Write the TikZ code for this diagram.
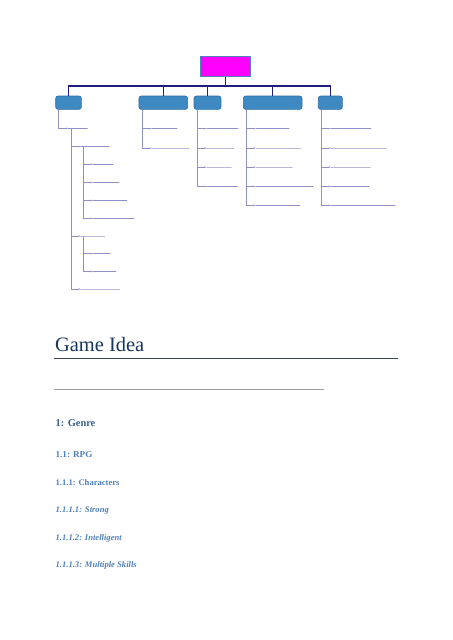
\documentclass[tikz,border=0pt]{standalone}
\usepackage{fontspec}
\setmainfont{Liberation Serif}
\usetikzlibrary{arrows.meta}
\definecolor{navy}{HTML}{1F1F7F}
\definecolor{rootfill}{HTML}{FF00FF}
\definecolor{rootedge}{HTML}{4F81BD}
\definecolor{midfill}{HTML}{3E89C2}
\definecolor{midedge}{HTML}{2F6CA3}
\definecolor{twigc}{HTML}{9090C4}
\definecolor{headone}{HTML}{365F91}
\definecolor{headtwo}{HTML}{4F81BD}
\definecolor{titlec}{HTML}{17365D}
\definecolor{rulec}{HTML}{3F4455}

\begin{document}
\begin{tikzpicture}[x=1.316pt, y=-1.316pt,
  topbox/.style={draw=rootedge, fill=rootfill, line width=0.8pt, minimum width=66.7pt, minimum height=27.2pt, inner sep=0pt},
  midbox/.style={draw=midedge, fill=midfill, rounded corners=3pt, line width=0.8pt, minimum height=17.5pt, inner sep=0pt},
  leaf/.style={draw=twigc, line width=0.8pt, inner sep=0pt, outer sep=0pt, minimum height=0pt, anchor=west},
  bus/.style={draw=navy, line width=1.4pt},
  twig/.style={draw=twigc, line width=0.8pt, -{Stealth[length=2.5pt, width=2pt]}},
  head/.style={anchor=base west, inner sep=0pt, font=\bfseries\fontsize{11.3}{13}\selectfont, text=headtwo}]
  \useasboundingbox (0,0) rectangle (452,640);

  % Top of the chart
  \node[topbox] (root) at (225.3,66.3) {};
  \coordinate (bus) at (225.3,86);

  \node[midbox, minimum width=33.7pt] (b1) at (68.5,102.7) {};
  \node[midbox, minimum width=64.1pt] (b2) at (163.3,102.7) {};
  \node[midbox, minimum width=35.5pt] (b3) at (207.5,102.7) {};
  \node[midbox, minimum width=77.2pt] (b4) at (272.7,102.7) {};
  \node[midbox, minimum width=31.6pt] (b5) at (330.3,102.7) {};

  \foreach \b in {b1,b2,b3,b4,b5}
    \draw[bus] (root.south) |- (bus) -| (\b.north);

  % First branch, three levels deep
  \node[leaf, minimum width=19.7*1.316pt] (a) at (68,128.3) {};
  \draw[twig] ([xshift=4.3pt]b1.south west) |- (a.west);

  \node[leaf, minimum width=28.7*1.316pt] (a1) at (80.3,146.7) {};
  \node[leaf, minimum width=24.7*1.316pt] (a2) at (80.3,236) {};
  \node[leaf, minimum width=39.7*1.316pt] (a3) at (80.3,289) {};
  \foreach \c in {a1,a2,a3}
    \draw[twig] ([xshift=4.3pt]a.west) |- (\c.west);

  \foreach \y/\w [count=\i] in {164.3/20.7, 182.3/26.7, 200.3/34.6, 218.3/41.6} {
    \node[leaf, minimum width=\w*1.316pt] (a1\i) at (92.6,\y) {};
    \draw[twig] ([xshift=4.3pt]a1.west) |- (a1\i.west);
  }
  \foreach \y/\w [count=\i] in {253.7/17.7, 271.7/23.4} {
    \node[leaf, minimum width=\w*1.316pt] (a2\i) at (92.6,\y) {};
    \draw[twig] ([xshift=4.3pt]a2.west) |- (a2\i.west);
  }

  % The other branches
  \foreach \y/\w [count=\i] in {128.7/26, 148/37.7} {
    \node[leaf, minimum width=\w*1.316pt] (c2\i) at (151.3,\y) {};
    \draw[twig] ([xshift=4.3pt]b2.south west) |- (c2\i.west);
  }
  \foreach \y/\w [count=\i] in {128.7/32, 148/27.7, 167/25.4, 186.3/31.4} {
    \node[leaf, minimum width=\w*1.316pt] (c3\i) at (206.3,\y) {};
    \draw[twig] ([xshift=4.3pt]b3.south west) |- (c3\i.west);
  }
  \foreach \y/\w [count=\i] in {128.7/33.7, 148/45.1, 167/37.1, 186.3/57.7, 205.3/44.4} {
    \node[leaf, minimum width=\w*1.316pt] (c4\i) at (255.6,\y) {};
    \draw[twig] ([xshift=4.3pt]b4.south west) |- (c4\i.west);
  }
  \foreach \y/\w [count=\i] in {128.7/40.4, 148/56.1, 167/40.1, 186.3/38.7, 205.3/64.7} {
    \node[leaf, minimum width=\w*1.316pt] (c5\i) at (330.6,\y) {};
    \draw[twig] ([xshift=4.3pt]b5.south west) |- (c5\i.west);
  }

  % Title and headings
  \node[anchor=base west, inner sep=0pt, text=titlec, font=\fontsize{26.9}{30}\selectfont] (idea) at (55,351) {Game Idea};
  \draw[draw=rulec, line width=1pt] (54.3,358.7) -- (397.7,358.7);
  \draw[draw=gray!75, line width=0.6pt] (54.3,389) -- (324.3,389);

  \node[head, text=headone, font=\bfseries\fontsize{13.7}{16}\selectfont] (genre) at (55.5,426.7) {1: Genre};
  \node[head, font=\bfseries\fontsize{12}{14}\selectfont] (rpg) at (55.5,457.7) {1.1: RPG};
  \node[head] (chars) at (55.5,485.3) {1.1.1: Characters};
  \node[head, font=\bfseries\itshape\fontsize{11.3}{13}\selectfont] (strong) at (55.5,512.7) {1.1.1.1: Strong};
  \node[head, font=\bfseries\itshape\fontsize{11.3}{13}\selectfont] (smart) at (55.5,540) {1.1.1.2: Intelligent};
  \node[head, font=\bfseries\itshape\fontsize{11.3}{13}\selectfont] (skills) at (55.5,567.3) {1.1.1.3: Multiple Skills};
\end{tikzpicture}
\end{document}
